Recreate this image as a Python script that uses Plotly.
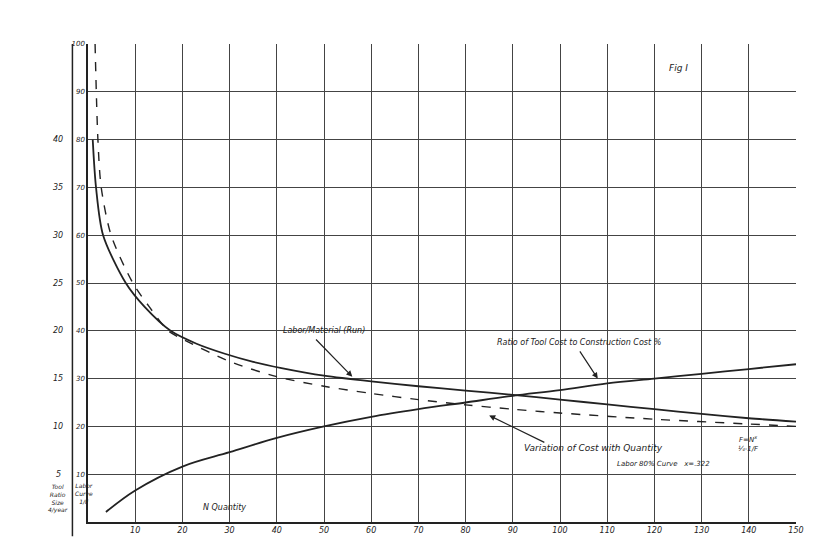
import plotly.graph_objects as go

labor_x = [1, 1.7, 3.2, 8, 12, 17.5, 23, 29, 35, 41, 50, 60, 70, 80, 90, 100, 110, 120, 130, 140, 150]
labor_run = [80, 70, 60, 50, 45, 40, 37.3, 35.2, 33.5, 32.2, 30.6, 29.4, 28.4, 27.5, 26.6, 25.6, 24.6, 23.6, 22.6, 21.7, 21]
wright_x = [1.5, 2.1, 2.8, 4.9, 9.5, 13, 17, 20, 30, 40, 50, 60, 70, 80, 90, 100, 120, 140, 150]
wright_y = [100, 80, 70, 60, 50, 45, 40, 38.3, 33.6, 30.4, 28.4, 26.9, 25.6, 24.5, 23.6, 22.8, 21.5, 20.5, 20]
tool_x = [3.8, 10, 20, 30, 40, 50, 60, 70, 80, 90, 100, 110, 120, 130, 140, 150]
tool_ratio = [1.05, 3.3, 5.8, 7.3, 8.8, 10, 11, 11.8, 12.5, 13.2, 13.8, 14.5, 15, 15.5, 16, 16.5]
x_ticks = list(range(10, 151, 10))
labor_ticks = list(range(10, 101, 10))
tool_ticks = [5, 10, 15, 20, 25, 30, 35, 40]

ink = "#222"
f = dict(family="DejaVu Sans", color=ink)
fig = go.Figure()
fig.add_trace(go.Scatter(x=labor_x, y=labor_run, mode="lines", line=dict(color=ink, width=1.8, shape="spline", smoothing=0.8)))
fig.add_trace(go.Scatter(x=wright_x, y=wright_y, mode="lines", line=dict(color=ink, width=1.4, dash="dash", shape="spline", smoothing=0.8)))
fig.add_trace(go.Scatter(x=tool_x, y=tool_ratio, yaxis="y2", mode="lines", line=dict(color=ink, width=1.8, shape="spline")))

fig.update_layout(
    width=830, height=546, showlegend=False, paper_bgcolor="white", plot_bgcolor="white",
    margin=dict(l=80, r=42, t=36, b=32),
    xaxis=dict(range=[0, 150], tickvals=x_ticks, showgrid=True, gridcolor="#444", gridwidth=1.2,
               showline=True, linecolor=ink, linewidth=1.5, zeroline=False,
               ticktext=[f"<i>{v}</i>" for v in x_ticks], tickfont=dict(size=8, **f)),
    yaxis=dict(range=[0, 100], tickvals=labor_ticks, showgrid=True, gridcolor="#444", gridwidth=1.2,
               showline=True, linecolor=ink, linewidth=1.5, zeroline=False,
               ticktext=[f"<i>{v}</i>" for v in labor_ticks], tickfont=dict(size=7, **f)),
    yaxis2=dict(range=[0, 50], overlaying="y", visible=False),
)
ann = []
for t in tool_ticks:
    ann.append(dict(x=-0.042, xref="paper", xanchor="center", y=t, yref="y2", yanchor="middle",
                    text=f"<i>{t}</i>", showarrow=False, font=dict(size=8, **f)))
fig.add_shape(type="line", xref="paper", yref="paper", x0=-0.022, x1=-0.022, y0=-0.03, y1=1.0,
              line=dict(color=ink, width=1.5))
def T(x, y, s, size=9, **kw):
    d = dict(x=x, y=y, xref="x", yref="y", text=s, showarrow=False, font=dict(size=size, **f))
    d.update(kw); ann.append(d)
T(125, 95, "<i>Fig I</i>", 9)
T(50, 40, "<i>Labor/Material (Run)</i>", 8)
T(104, 37.5, "<i>Ratio of Tool Cost to Construction Cost %</i>", 8)
T(107, 15.5, "<i>Variation of Cost with Quantity</i>", 9)
T(140, 16.5, "<i>F=N<sup>x</sup><br>¼-1/F</i>", 7)
T(122, 12.2, "<i>Labor 80% Curve   x=.322</i>", 7)
T(29, 3, "<i>N Quantity</i>", 8)
ann.append(dict(x=-0.006, xref="paper", y=6, yref="y", text="<i>Labor<br>Curve<br>1/F</i>",
                showarrow=False, font=dict(size=6, **f), xanchor="center"))
ann.append(dict(x=-0.042, xref="paper", y=5, yref="y", text="<i>Tool<br>Ratio<br>Size<br>4/year</i>",
                showarrow=False, font=dict(size=6, **f), xanchor="center"))
for (x0, y0, x1, y1) in [(48, 38.5, 56, 30.4), (104, 36, 108, 30), (97, 16.5, 85, 22.3)]:
    ann.append(dict(x=x1, y=y1, ax=x0, ay=y0, xref="x", yref="y", axref="x", ayref="y", text="",
                    showarrow=True, arrowhead=2, arrowsize=1, arrowwidth=1.2, arrowcolor=ink))
fig.update_layout(annotations=ann)
fig.write_html("out.html")
